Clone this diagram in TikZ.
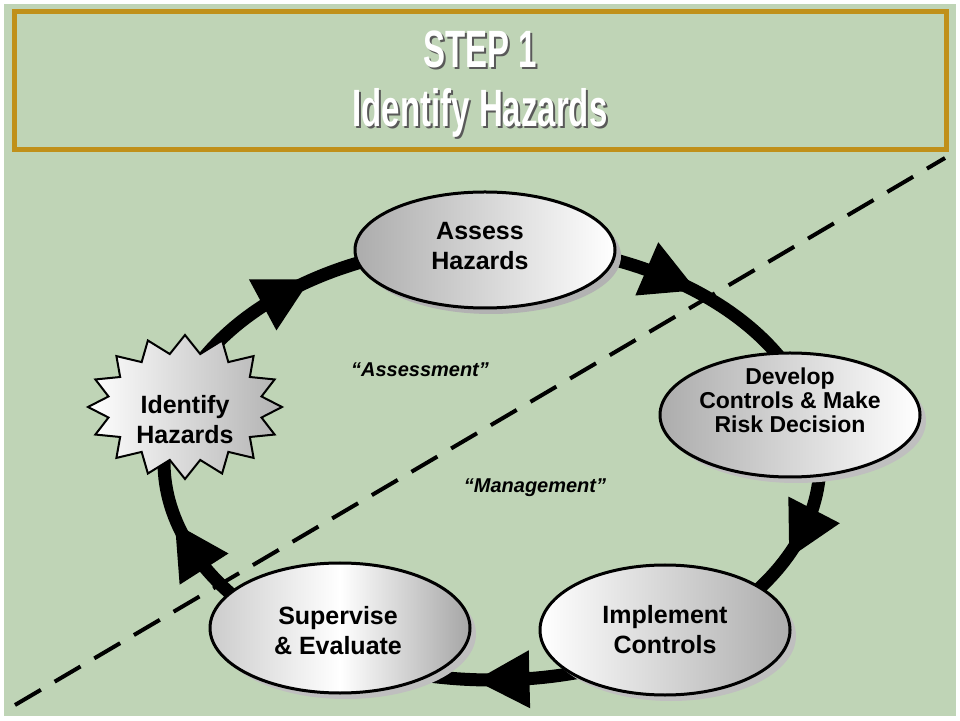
\documentclass[tikz,border=0pt]{standalone}
\usepackage{fontspec}
\setmainfont{Liberation Sans}
\usetikzlibrary{shadings,shapes.geometric}
\definecolor{bg}{HTML}{BFD4B6}
\definecolor{gold}{HTML}{C0901A}
\tikzset{
 ell/.style={draw=black,line width=3pt,left color=gray!65,right color=white,shading angle=90},
 lbl/.style={font=\fontsize{25}{30}\selectfont\bfseries,align=center,text=black},
 ital/.style={font=\fontsize{20}{22}\selectfont\bfseries\itshape},
 ttl/.style={font=\fontsize{50}{56}\selectfont\bfseries,xscale=0.66,yscale=1.05,align=center}
}
\begin{document}
\begin{tikzpicture}[x=1pt,y=1pt]
\useasboundingbox (0,0) rectangle (960,720);
\fill[white] (0,0) rectangle (960,720);
\fill[bg] (4,4) rectangle (956,716);
\draw[gold,line width=5pt] (14,570) rectangle (946,708);
\node[ttl,text=gray!70!black] (tsh) at (482,634) {STEP 1\\Identify Hazards};
\node[ttl,text=white] (title) at (480,636) {STEP 1\\Identify Hazards};
% cycle ring
\draw[line width=13pt] (492,258) ellipse [x radius=328, y radius=218];
\foreach \t in {57,-19,-88,203,129}{
 \pgfmathsetmacro\a{atan2(-218*cos(\t),328*sin(\t))}
 \begin{scope}[shift={({492+328*cos(\t)},{258+218*sin(\t)})},rotate=\a]
 \fill (28,0)--(-26,29)--(-26,-29)--cycle;
 \end{scope}
}
% dashed line
\coordinate (d1) at (15,15); \coordinate (d2) at (945,562);
\draw[line width=4pt,dash pattern=on 30pt off 16pt] (d1)--(d2);
% nodes
\fill[gray!60] (491,464) ellipse [x radius=130, y radius=58];
\filldraw[ell] (485,470) ellipse [x radius=130, y radius=58];
\node[lbl] (assess) at (480,474) {Assess\\Hazards};
\fill[gray!50] (796,299) ellipse [x radius=130, y radius=62];
\filldraw[ell] (790,305) ellipse [x radius=130, y radius=62];
\node[lbl,font=\fontsize{23}{24}\selectfont\bfseries] (dev) at (790,320) {Develop\\Controls \& Make\\Risk Decision};
\fill[gray!50] (671,84) ellipse [x radius=125, y radius=65];
\filldraw[ell,left color=white,right color=gray!65] (665,90) ellipse [x radius=125, y radius=65];
\node[lbl] (impl) at (665,90) {Implement\\Controls};
\fill[gray!50] (346,86) ellipse [x radius=130, y radius=65];
\filldraw[ell,left color=gray!40,right color=gray!70,middle color=white] (340,92) ellipse [x radius=130, y radius=65];
\node[lbl] (sup) at (338,89) {Supervise\\\& Evaluate};
% star
\filldraw[ell,line width=2pt,left color=white,right color=gray!60] plot[samples at={0,...,31}] ({185+(mod(\x,2)==0?97:78)*cos(\x*11.25)},{313+(mod(\x,2)==0?72:54)*sin(\x*11.25)}) -- cycle;
\node[lbl] (id) at (185,300) {Identify\\Hazards};
\node[ital] (as) at (420,350) {“Assessment”};
\node[ital] (mg) at (535,232) {“Management”};
\end{tikzpicture}
\end{document}
